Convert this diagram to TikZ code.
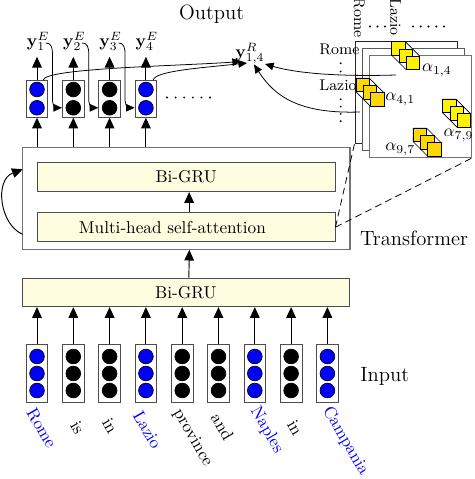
\documentclass[tikz,border=0pt]{standalone}
\usetikzlibrary{arrows.meta}
\definecolor{cream}{RGB}{255,253,224}
\definecolor{golden}{RGB}{255,215,0}
\newcommand{\pxu}{0.5814pt}
\newcommand{\cubebar}[3]{%
  \filldraw[fill=white, draw=black, line width=0.4pt] (#1,#2) -- ++(13.5,0) -- ++(14.4,14.4) -- ++(0,13.5) -- ++(-13.5,0) -- ++(-14.4,-14.4) -- cycle;
  \foreach \k in {0,1,2} {\filldraw[fill=#3, draw=black, line width=0.4pt] ({#1+7.2*\k},{#2+7.2*\k}) rectangle ++(13.5,13.5);}
}
\begin{document}
\begin{tikzpicture}[x=0.5814pt, y=-0.5814pt,
  wbox/.style={draw=black!70, line width=0.5pt, fill=white, minimum width=21.7*\pxu, inner sep=0},
  inbox/.style={wbox, minimum height=58.7*\pxu},
  outbox/.style={wbox, minimum height=37.3*\pxu},
  dotc/.style={circle, draw=black, line width=0.4pt, minimum size=14.7*\pxu, inner sep=0},
  ybox/.style={draw=black!70, fill=cream, line width=0.5pt, inner sep=0},
  arr/.style={-{Triangle[length=6.2pt,width=5.6pt]}, line width=0.55pt},
  arrs/.style={-{Triangle[length=5pt,width=4.4pt]}, line width=0.45pt},
  panel/.style={draw=#1, fill=white, line width=0.5pt, minimum width=102.5*\pxu, minimum height=102*\pxu, inner sep=0},
  biglabel/.style={font=\large, inner sep=0},
  smalllabel/.style={font=\small, inner sep=0},
  alab/.style={inner sep=0, anchor=base west},
  vdot/.style={fill=black},
  dashedline/.style={dash pattern=on 4pt off 2.5pt, line width=0.45pt}
]
\useasboundingbox (0,0) rectangle (474,479);

% lower Bi-GRU
\node[ybox, minimum width=326.3*\pxu, minimum height=28.7*\pxu] (bigruA) at (185.85,292.35) {Bi-GRU};

% transformer block
\node[draw=black!55, line width=0.6pt, minimum width=327.3*\pxu, minimum height=102*\pxu, inner sep=0] (trans) at (186.35,198.3) {};
\node[ybox, minimum width=297.7*\pxu, minimum height=29.4*\pxu] (bigruB) at (186.15,177) {Bi-GRU};
\node[ybox, minimum width=297.7*\pxu, minimum height=29*\pxu] (mha) at (186.15,227.2) {Multi-head self-attention\hspace*{16pt}};
\draw[arr] ([xshift=3*\pxu]mha.north) -- ([xshift=3*\pxu]bigruB.south);
\draw[arr] ([xshift=3*\pxu]bigruA.north) -- ([xshift=3*\pxu]trans.south);
\coordinate (lps) at (22.7,234.3);
\coordinate (lpe) at (22.7,169.3);
\draw[arr] (lps) .. controls (0,225) and (-6,180) .. (lpe);
\node[biglabel, anchor=base] (translab) at (414,245) {Transformer};

% input columns
\foreach \i/\x/\c in {1/37/blue, 2/73.3/black, 3/109.6/black, 4/145.9/blue, 5/182.2/black, 6/218.5/black, 7/254.8/blue, 8/291.1/black, 9/327.4/blue} {
  \node[inbox] (in\i) at (\x,373.35) {};
  \node[dotc, fill=\c] (ia\i) at (\x,356.5) {};
  \node[dotc, fill=\c] (ib\i) at (\x,373.5) {};
  \node[dotc, fill=\c] (ic\i) at (\x,390.5) {};
  \draw[arr] (in\i.north) -- (in\i.north |- bigruA.south);
}
\node[biglabel, anchor=base] (inputlab) at (384.7,381) {Input};

% words
\foreach \w/\c/\wx/\wy [count=\n] in {Rome/blue/41.7/428, is/black/77.5/427.5, in/black/110/425.5, Lazio/blue/147.5/430, province/black/192.5/438, and/black/222.5/427, Naples/blue/266.7/430, in/black/295/428, Campania/blue/345.5/441} {
  \node[rotate=-60, text=\c, inner sep=0] (w\n) at (\wx,\wy) {\w};
}

% output columns
\foreach \i/\x/\c in {1/37/blue, 2/73.3/black, 3/109.6/black, 4/145.9/blue} {
  \node[outbox] (out\i) at (\x,98.65) {};
  \node[dotc, fill=\c] (oa\i) at (\x,89.5) {};
  \node[dotc, fill=\c] (ob\i) at (\x,107.8) {};
  \draw[arr] (out\i.south |- trans.north) -- (out\i.south);
  \node[anchor=base] (ye\i) at ({\x+1},46.5) {$\mathbf{y}_{\i}^{E}$};
  \draw[arr] (out\i.north) -- (out\i.north |- ye\i.south);
  \coordinate (es\i) at ({\x+9},43);
}
\foreach \k in {0,...,5} {\fill[vdot] ({167+8.6*\k},97.5) circle[radius=0.6pt];}

\draw[arrs] (es1) .. controls +(5,0) and +(0,-8) .. ++(6.5,12) -- ++(0,46) .. controls +(0,6) and +(-4,0) .. (out2.west |- ob2.center);
\draw[arrs] (es2) .. controls +(5,0) and +(0,-8) .. ++(6.5,12) -- ++(0,46) .. controls +(0,6) and +(-4,0) .. (out3.west |- ob3.center);
\draw[arrs] (es3) .. controls +(5,0) and +(0,-8) .. ++(6.5,12) -- ++(0,46) .. controls +(0,6) and +(-4,0) .. (out4.west |- ob4.center);

\node[biglabel, anchor=base] (outlab) at (211.7,19.5) {Output};
\node[alab] (yR) at (235,57.5) {$\mathbf{y}_{1,4}^{R}$};

% attention panels
\node[panel=black!85] (back) at (406.25,92) {};
\node[panel=black!65] (middle) at (413.45,99.2) {};
\node[panel=black!55] (front) at (420.65,106.4) {};

\draw[dashedline] (mha.east) -- (back.south west);
\draw[dashedline] (mha.east) -- (front.south east);

\node[smalllabel, rotate=-90, anchor=east] (colRome) at (359.3,38) {Rome};
\node[smalllabel, rotate=-90, anchor=east] (colLazio) at (395.5,36) {Lazio};
\node[smalllabel, anchor=base west] (rowRome) at (319,55) {Rome};
\node[smalllabel, anchor=base west] (rowLazio) at (319,91) {Lazio};
\foreach \yy in {63.3,71.5,99.3,106.6,113.9,121.2} {\fill[vdot] (340.7,\yy) circle[radius=0.6pt];}
\foreach \xx in {370,377.5,385,413,420.75,428.5,436.25,444} {\fill[vdot] (\xx,26.5) circle[radius=0.6pt];}

% arrows to y^R
\coordinate (sA) at (43.3,80);
\coordinate (sB) at (153.3,80);
\coordinate (sC) at (396,75);
\coordinate (sD) at (360,112);
\coordinate (tA) at (241,61.5);
\coordinate (tB) at (247,63);
\coordinate (tC) at (265,64);
\coordinate (tD) at (254,64.5);
\draw[arrs] (sA) .. controls (45,68) and (180,66) .. (tA);
\draw[arrs] (sB) .. controls (155,71) and (200,68) .. (tB);
\draw[arrs] (sC) .. controls (330,77) and (292,72) .. (tC);
\draw[arrs] (sD) .. controls (300,114) and (275,97) .. (tD);

% cubes
\cubebar{391.7}{41.7}{yellow}
\cubebar{356}{78.3}{golden}
\cubebar{442.7}{99.3}{yellow}
\cubebar{413.3}{128.3}{golden}
\node[alab] (a14) at (421.7,71.5) {$\alpha_{1,4}$};
\node[alab] (a41) at (385,100.5) {$\alpha_{4,1}$};
\node[alab] (a79) at (443.3,136.5) {$\alpha_{7,9}$};
\node[alab] (a97) at (385,150.5) {$\alpha_{9,7}$};
\end{tikzpicture}
\end{document}
